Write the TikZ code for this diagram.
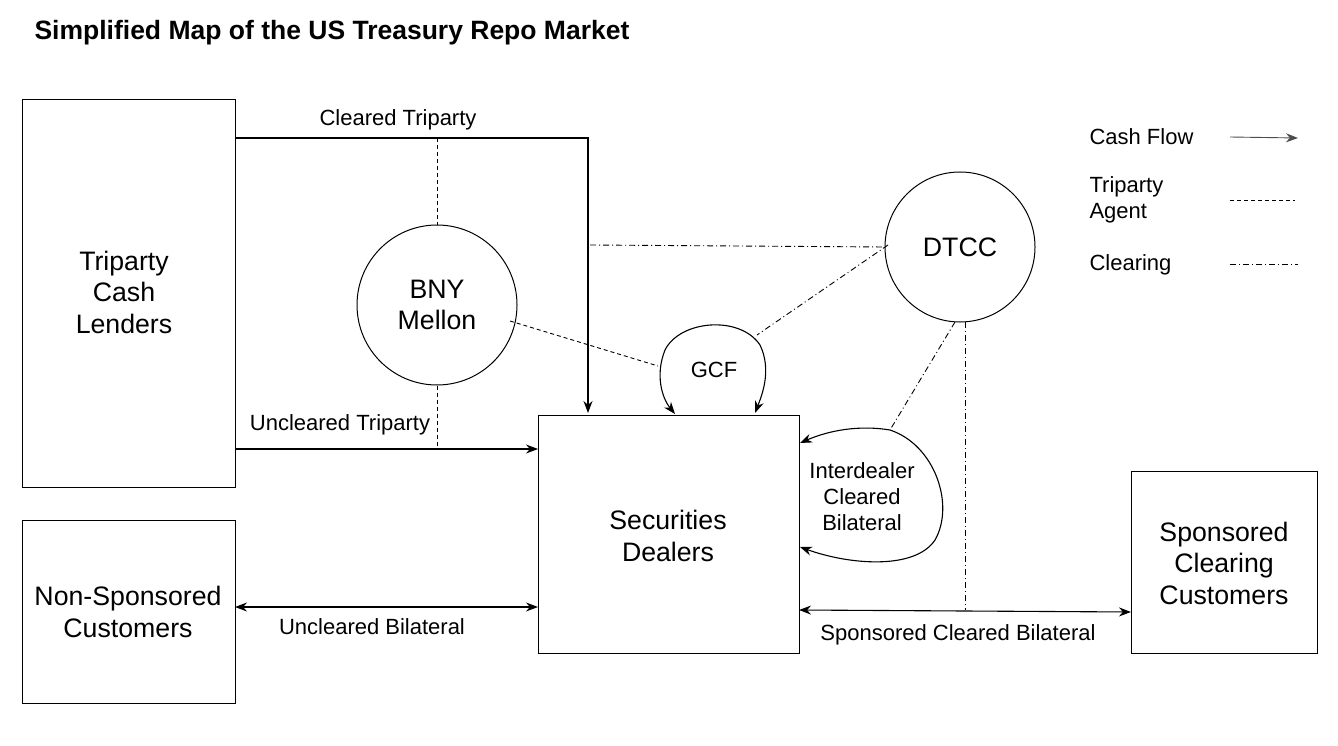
\documentclass[tikz,border=0pt]{standalone}
\usepackage{fontspec}
\setmainfont{Liberation Sans}
\usetikzlibrary{arrows.meta}
\begin{document}
\begin{tikzpicture}[x=1pt,y=-1pt,
  box/.style={draw,line width=1pt},
  big/.style={font=\fontsize{26.7}{31.5}\selectfont,align=center},
  mid/.style={font=\fontsize{22}{26}\selectfont,align=center},
  flow/.style={line width=1.1pt,-{Stealth[length=12pt,width=9pt]}},
  dflow/.style={line width=1.1pt,{Stealth[length=12pt,width=9pt]}-{Stealth[length=12pt,width=9pt]}},
  tri/.style={line width=0.9pt,dash pattern=on 4pt off 3pt},
  clr/.style={line width=0.9pt,dash pattern=on 6pt off 3pt on 1pt off 3pt}]
\useasboundingbox (0,0) rectangle (1338,746);
\node[anchor=west,font=\bfseries\fontsize{26.5}{31}\selectfont] (title) at (31,33) {Simplified Map of the US Treasury Repo Market};
% boxes
\draw[box] (22,100) rectangle (235,487);
\node[big] (tcl) at (124,292) {Triparty\\Cash\\Lenders};
\draw[box] (22,520) rectangle (235,703);
\node[big] (nsc) at (128,612) {Non-Sponsored\\Customers};
\draw[box] (538,415) rectangle (799,653);
\node[big] (sd) at (668,536) {Securities\\Dealers};
\draw[box] (1131,471) rectangle (1317,653);
\node[big] (scc) at (1224,563) {Sponsored\\Clearing\\Customers};
% circles
\node[draw,circle,line width=1pt,minimum size=160pt,inner sep=0pt,big] (bny) at (437,305) {BNY\\Mellon};
\node[draw,circle,line width=1pt,minimum size=150pt,inner sep=0pt,big] (dtcc) at (960,247) {DTCC};
% coordinates
\coordinate (ct0) at (235,138);
\coordinate (ct1) at (588,138);
\coordinate (ct2) at (588,413);
\coordinate (ut0) at (235,449);
\coordinate (ut1) at (538,449);
\coordinate (bt) at (437,138);
\coordinate (bb) at (437,447);
% cleared triparty
\draw[flow] (ct0) -- (ct1) -- (ct2);
\node[mid] (ctl) at (398,120) {Cleared Triparty};
\draw[flow] (ut0) -- (ut1);
\node[mid] (utl) at (340,425) {Uncleared Triparty};
\draw[tri] (bt) -- (bny.north);
\draw[tri] (bny.south) -- (bb);
% clearing lines
\coordinate (dc0) at (590,245);
\draw[clr] (dc0) -- (dtcc.west);
% GCF
\node[mid] (gcf) at (714,370) {GCF};
\draw[flow] (760,345) .. controls (772,370) and (762,395) .. (755,413);
\draw[flow] (760,345) .. controls (740,315) and (680,320) .. (665,350) .. controls (655,375) and (662,398) .. (675,414);
\coordinate (gl) at (658,366);
\coordinate (gr) at (757,335);
\draw[tri] (510,321) -- (gl);
\draw[clr] (888,245) -- (gr);
% Interdealer
\node[mid] (idl) at (862,497) {Interdealer\\Cleared\\Bilateral};
\draw[flow] (890,430) .. controls (860,425) and (830,430) .. (800,443);
\draw[flow] (890,430) .. controls (935,445) and (955,505) .. (935,540) .. controls (915,570) and (850,565) .. (800,547);
\coordinate (ia) at (890,430);
\coordinate (dv) at (965,610);
\coordinate (ds) at (955,322);
\draw[clr] (ds) -- (ia);
\draw[clr] (965,322) -- (dv);
% bilateral
\draw[dflow] (235,607) -- (538,607);
\node[mid] (ubl) at (372,627) {Uncleared Bilateral};
\draw[dflow] (799,610) -- (1131,612);
\node[mid] (sbl) at (958,635) {Sponsored Cleared Bilateral};
% legend
\node[mid,anchor=west] (lcf) at (1086,137) {Cash Flow};
\draw[line width=0.9pt,-{Stealth[length=12pt,width=9pt]},gray!60!black] (1230,137) -- (1298,138);
\node[mid,anchor=west,align=left] (lta) at (1086,200) {Triparty\\Agent};
\draw[tri] (1230,200) -- (1295,200);
\node[mid,anchor=west] (lcl) at (1086,265) {Clearing};
\draw[clr] (1230,264) -- (1298,264);
\end{tikzpicture}
\end{document}
